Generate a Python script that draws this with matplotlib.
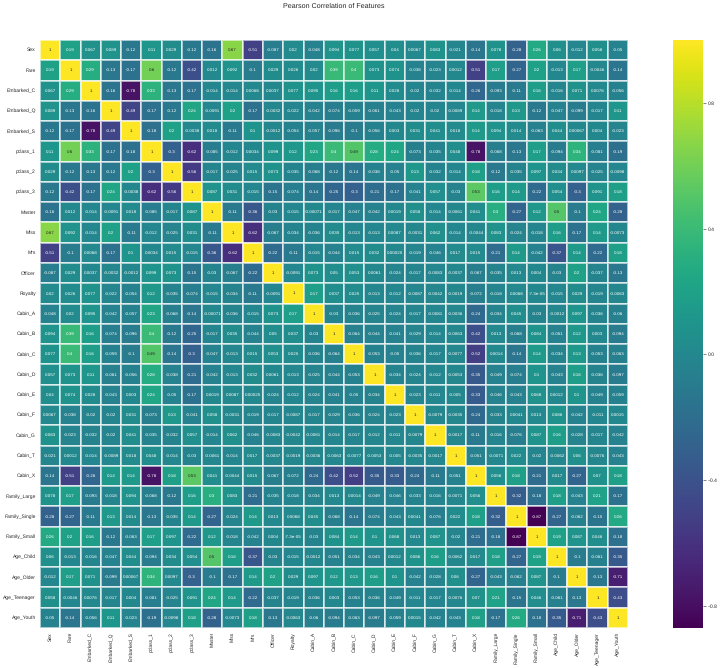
"""
Pearson correlation heatmap of the engineered Titanic features
"""

import matplotlib
matplotlib.use('Agg')
import matplotlib.pyplot as plt
import numpy as np
import seaborn as sns

features = ['Sex', 'Fare', 'Embarked_C', 'Embarked_Q', 'Embarked_S', 'pclass_1', 'pclass_2',
            'pclass_3', 'Master', 'Miss', 'Mrs', 'Officer', 'Royalty', 'Cabin_A', 'Cabin_B',
            'Cabin_C', 'Cabin_D', 'Cabin_E', 'Cabin_F', 'Cabin_G', 'Cabin_T', 'Cabin_X',
            'Family_Large', 'Family_Single', 'Family_Small', 'Age_Child', 'Age_Older',
            'Age_Teenager', 'Age_Youth']

# upper triangle, each row starts at its diagonal cell
sex = [1, .19, .067, .089, -.12, .11, .029, -.12, -.16, .67, -.51, -.087, .02, -.048, .094, .077,
       .057, .04, .0067, .083, -.021, -.14, .078, -.28, .26, .06, -.012, .058, -.05]
fare = [1, .29, -.13, -.17, .6, -.12, -.42, .012, .092, -.1, .029, .026, .02, .39, .4, .073, .074,
        -.038, -.023, .0012, -.51, .17, -.27, .2, -.013, .17, -.0046, -.14]
embarked_c = [1, -.16, -.78, .33, -.13, -.17, -.014, -.014, .0068, .0037, .077, .095, .16, .16,
              .11, .028, -.02, -.032, -.014, -.26, -.093, -.11, .16, -.016, .071, .0076, -.056]
embarked_q = [1, -.49, -.17, -.12, .24, -.0091, .2, -.17, -.0032, -.022, -.042, -.074, -.059,
              -.061, -.043, -.02, -.02, -.0089, .14, -.018, .13, -.12, -.047, -.099, -.017, .11]
embarked_s = [1, -.18, .2, -.0038, .018, -.11, .1, -.0012, -.054, -.057, -.096, -.1, -.056, .003,
              .031, .041, .018, .14, .094, .014, -.063, .044, .00067, .004, -.023]
pclass_1 = [1, -.3, -.62, -.085, -.012, .0034, .099, .12, .23, .4, .49, .28, .24, -.073, -.035,
            .048, -.78, -.068, -.13, .17, -.094, .34, -.081, -.19]
pclass_2 = [1, -.56, -.017, -.025, .015, .073, -.035, -.068, -.12, -.14, -.038, -.05, .13, -.032,
            -.014, .18, -.12, -.035, .097, .034, .0097, -.025, -.0098]
pclass_3 = [1, .087, .031, -.015, -.15, -.074, -.14, -.25, -.3, -.21, -.17, -.041, .057, -.03,
            .53, .16, .14, -.22, .054, -.3, .091, .18]
master = [1, -.11, -.36, -.03, -.015, -.00071, -.017, -.047, -.042, .0019, .058, -.014, -.0061,
          .041, .3, -.27, .12, .5, -.1, .24, -.28]
miss = [1, -.62, -.067, -.034, -.036, .035, -.013, -.013, .0087, -.0031, .062, -.014, -.0044,
        .083, -.024, -.018, .16, -.17, .14, -.0073]
mrs = [1, -.22, -.11, -.015, -.044, .015, .032, .00025, -.019, -.046, .017, .015, -.21, .14,
       -.042, -.37, .14, -.22, .18]
officer = [1, -.0091, .073, .05, .053, .0061, -.024, -.017, -.0083, -.0037, -.067, -.035, .013,
           .004, -.03, .2, -.037, -.13]
royalty = [1, .17, .037, .025, -.013, -.012, -.0087, -.0042, -.0019, -.072, -.018, .0068,
           -7.3e-05, -.015, .029, -.019, -.0063]
cabin_a = [1, -.03, -.036, -.025, -.024, -.017, -.0081, -.0036, -.24, -.034, .045, -.03, -.0012,
           .097, -.036, -.06]
cabin_b = [1, -.064, -.044, -.041, -.029, -.014, -.0063, -.42, .013, -.068, .084, -.051, .12,
           .003, -.094]
cabin_c = [1, -.053, -.05, -.036, -.017, -.0077, -.52, .0014, -.14, .14, -.034, .13, -.053, -.063]
cabin_d = [1, -.034, -.024, -.012, -.0053, -.35, -.049, -.074, .1, -.043, .16, -.036, -.097]
cabin_e = [1, -.023, -.011, -.005, -.33, -.046, -.043, .068, .0012, .1, -.049, -.059]
cabin_f = [1, -.0079, -.0035, -.24, -.033, .0041, .013, .086, -.042, -.011, .0015]
cabin_g = [1, -.0017, -.11, -.016, -.076, .087, .16, -.028, -.017, -.042]
cabin_t = [1, -.051, -.0071, .022, -.02, -.0062, .06, -.0076, -.043]
cabin_x = [1, .056, .18, -.21, .017, -.27, .07, .18]
family_large = [1, -.32, -.18, .18, -.043, .21, -.17]
family_single = [1, -.87, -.27, -.062, -.15, .26]
family_small = [1, .19, .087, .046, -.18]
age_child = [1, -.1, -.061, -.35]
age_older = [1, -.13, -.71]
age_teenager = [1, -.43]
age_youth = [1]

rows = [sex, fare, embarked_c, embarked_q, embarked_s, pclass_1, pclass_2, pclass_3, master, miss,
        mrs, officer, royalty, cabin_a, cabin_b, cabin_c, cabin_d, cabin_e, cabin_f, cabin_g,
        cabin_t, cabin_x, family_large, family_single, family_small, age_child, age_older,
        age_teenager, age_youth]

n = len(features)
corr = np.zeros((n, n))
for i, row in enumerate(rows):
    corr[i, i:] = row
    corr[i:, i] = row

sns.set_style('whitegrid')
plt.rcParams['font.family'] = ['Liberation Sans', 'DejaVu Sans']
plt.rcParams['text.hinting'] = 'no_hinting'  # small labels lose their minus signs otherwise

W, H = 720, 668
fig = plt.figure(figsize=(W / 50, H / 50), dpi=50)
ax = fig.add_axes([40 / W, 1 - 628 / H, 588 / W, 588 / H])
cax = fig.add_axes([673 / W, 1 - 628 / H, 30 / W, 588 / H])

# half transparent lines, the reference grid is a soft light line and not pure white
sns.heatmap(corr, ax=ax, cbar_ax=cax, cmap='viridis', vmax=1.0, square=True, annot=True,
            linewidths=0.6, linecolor=(1, 1, 1, 0.6), annot_kws={'size': 6.4},
            xticklabels=features, yticklabels=features)
ax.tick_params(length=0, labelsize=7.2, colors='#262626', pad=6)
plt.setp(ax.get_xticklabels(), rotation=90)
plt.setp(ax.get_yticklabels(), rotation=0)

cax.set_yticks([-0.8, -0.4, 0, 0.4, 0.8])
cax.set_yticklabels(['\u22120.8', '\u22120.4', '0.0', '0.4', '0.8'])
cax.tick_params(length=4.5, width=0.8, labelsize=7.2, colors='#262626', right=True, pad=3)

fig.text(334 / W, 1 - 3 / H, 'Pearson Correlation of Features', ha='center', va='top',
         fontsize=10.2, color='#262626')

fig.savefig('out.png', dpi=50)
plt.close()
